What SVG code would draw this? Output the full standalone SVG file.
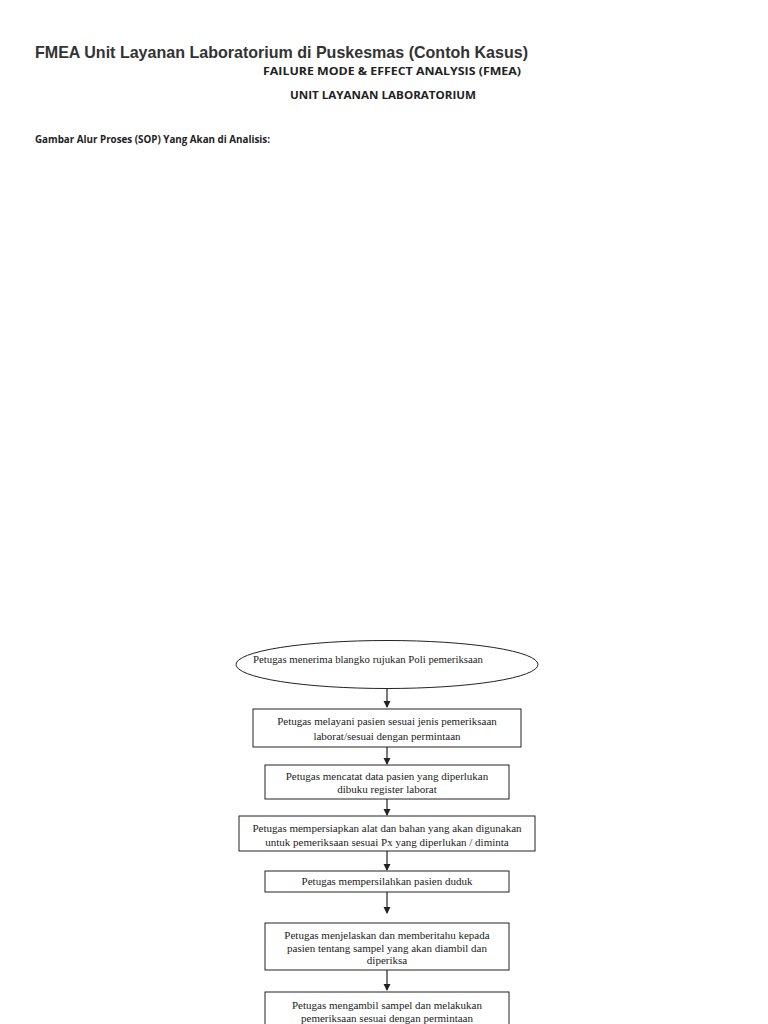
<svg xmlns="http://www.w3.org/2000/svg" width="768" height="1024" viewBox="0 0 768 1024">
<style>
.bg{fill:#ffffff}
.h1{font-family:"Liberation Sans",Arial,sans-serif;font-weight:bold;font-size:17px;fill:#333333}
.h2{font-family:"Open Sans","Liberation Sans",sans-serif;font-weight:bold;font-size:11px;fill:#222222}
.lbl{font-family:"Open Sans","Liberation Sans",sans-serif;font-weight:bold;font-size:10px;fill:#222222}
.box{fill:#ffffff;stroke:#222222;stroke-width:1}
.t{font-family:"Liberation Serif","Times New Roman",serif;font-size:11px;fill:#222222;text-anchor:middle}
.tl{text-anchor:start}
.conn{stroke:#222222;stroke-width:1.2;fill:none}
</style>
<defs>
<marker id="ah" markerWidth="8" markerHeight="8" refX="6" refY="3.5" orient="auto" markerUnits="userSpaceOnUse">
<path d="M0,0 L7,3.5 L0,7 Z" fill="#222222"/>
</marker>
</defs>
<rect class="bg" x="0" y="0" width="768" height="1024"/>
<g id="header">
<text class="h1" x="35" y="58" textLength="493" lengthAdjust="spacingAndGlyphs">FMEA Unit Layanan Laboratorium di Puskesmas (Contoh Kasus)</text>
<text class="h2" x="263" y="75" textLength="258" lengthAdjust="spacingAndGlyphs">FAILURE MODE &amp; EFFECT ANALYSIS (FMEA)</text>
<text class="h2" x="290" y="99" textLength="186" lengthAdjust="spacingAndGlyphs">UNIT LAYANAN LABORATORIUM</text>
<text class="lbl" x="35" y="143" textLength="235" lengthAdjust="spacingAndGlyphs">Gambar Alur Proses (SOP) Yang Akan di Analisis:</text>
</g>
<g id="connectors">
<line class="conn" x1="387" y1="689" x2="387" y2="707" marker-end="url(#ah)"/>
<line class="conn" x1="387" y1="747" x2="387" y2="764" marker-end="url(#ah)"/>
<line class="conn" x1="387" y1="799" x2="387" y2="815" marker-end="url(#ah)"/>
<line class="conn" x1="387" y1="851" x2="387" y2="870" marker-end="url(#ah)"/>
<line class="conn" x1="387" y1="892" x2="387" y2="913" marker-end="url(#ah)"/>
<line class="conn" x1="387" y1="970" x2="387" y2="990" marker-end="url(#ah)"/>
</g>
<g id="n1">
<ellipse class="box" cx="387" cy="664.5" rx="151" ry="24"/>
<text class="t tl" x="253" y="663" textLength="230" lengthAdjust="spacingAndGlyphs">Petugas menerima blangko rujukan Poli pemeriksaan</text>
</g>
<g id="n2">
<rect class="box" x="253" y="709" width="268" height="38"/>
<text class="t" x="387" y="725">Petugas melayani pasien sesuai jenis pemeriksaan</text>
<text class="t" x="387" y="740">laborat/sesuai dengan permintaan</text>
</g>
<g id="n3">
<rect class="box" x="265" y="765" width="244" height="34"/>
<text class="t" x="387" y="780">Petugas mencatat data pasien yang diperlukan</text>
<text class="t" x="387" y="793">dibuku register laborat</text>
</g>
<g id="n4">
<rect class="box" x="239" y="816" width="296" height="35"/>
<text class="t" x="387" y="832">Petugas mempersiapkan alat dan bahan yang akan digunakan</text>
<text class="t" x="387" y="846">untuk pemeriksaan sesuai Px yang diperlukan / diminta</text>
</g>
<g id="n5">
<rect class="box" x="265" y="871" width="244" height="21"/>
<text class="t" x="387" y="885">Petugas mempersilahkan pasien duduk</text>
</g>
<g id="n6">
<rect class="box" x="265" y="923" width="244" height="47"/>
<text class="t" x="387" y="939">Petugas menjelaskan dan memberitahu kepada</text>
<text class="t" x="387" y="952">pasien tentang sampel yang akan diambil dan</text>
<text class="t" x="387" y="964">diperiksa</text>
</g>
<g id="n7">
<rect class="box" x="265" y="992" width="244" height="45"/>
<text class="t" x="387" y="1009">Petugas mengambil sampel dan melakukan</text>
<text class="t" x="387" y="1022">pemeriksaan sesuai dengan permintaan</text>
</g>
</svg>
